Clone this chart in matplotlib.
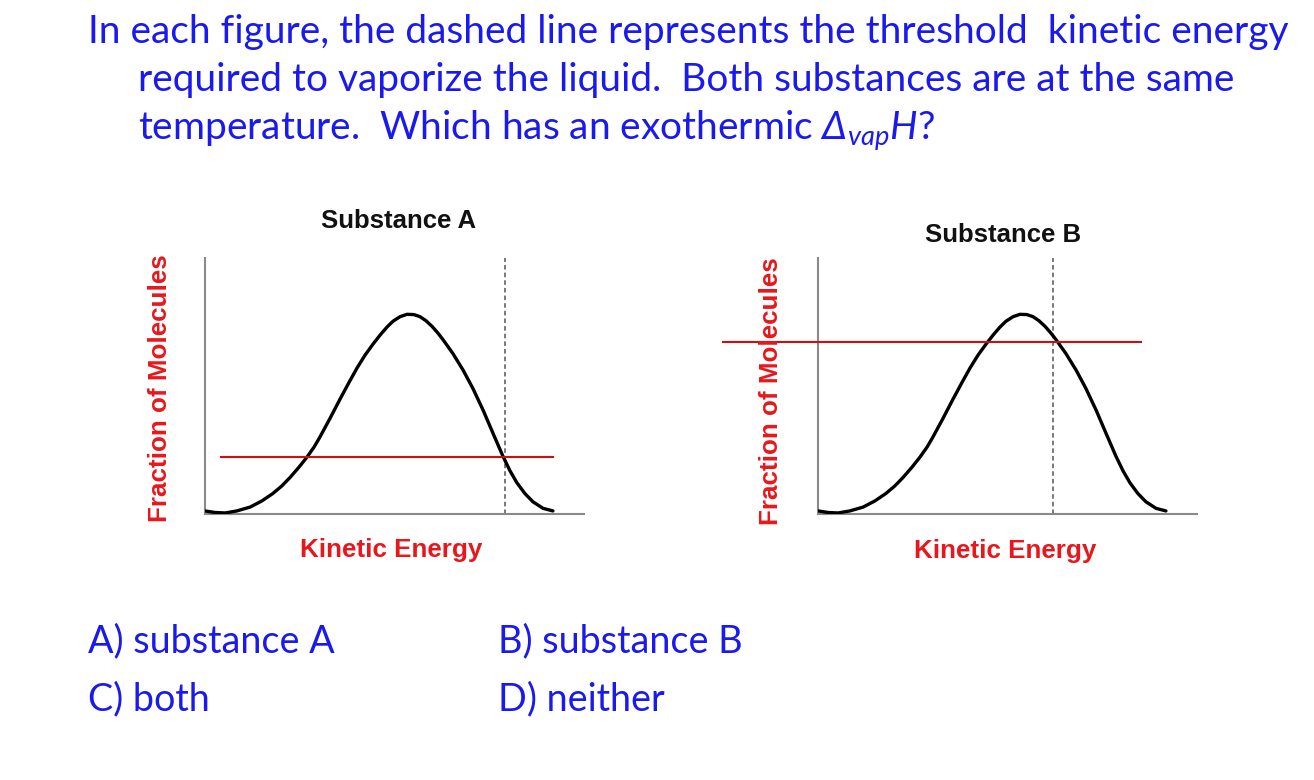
import matplotlib
matplotlib.use("Agg")
import matplotlib.pyplot as plt

W, H = 1314, 780

question_lines = [
    "In each figure, the dashed line represents the threshold  kinetic energy",
    "required to vaporize the liquid.  Both substances are at the same",
    "temperature.  Which has an exothermic $\\mathsf{Δ}_{\\mathit{vap}}\\mathit{H}$?",
]
answers = ["A) substance A", "B) substance B", "C) both", "D) neither"]

# one energy distribution, drawn in both panels (axis units 0-10)
ke = [0.00, 0.26, 0.53, 0.84, 1.19, 1.50, 1.79, 2.03, 2.24, 2.48, 2.69, 2.88,
      3.03, 3.30, 3.56, 3.80, 4.01, 4.22, 4.43, 4.62, 4.80, 4.96, 5.15, 5.33,
      5.51, 5.67, 5.83, 5.99, 6.15, 6.28, 6.54, 6.81, 7.07, 7.34, 7.60, 7.86,
      8.05, 8.23, 8.44, 8.65, 8.92, 9.18]
frac = [0.12, 0.06, 0.04, 0.12, 0.27, 0.51, 0.80, 1.10, 1.42, 1.83, 2.22, 2.62,
        3.00, 3.74, 4.48, 5.14, 5.70, 6.20, 6.63, 6.99, 7.30, 7.53, 7.71, 7.80,
        7.79, 7.71, 7.55, 7.33, 7.06, 6.81, 6.27, 5.62, 4.90, 4.05, 3.15, 2.26,
        1.68, 1.22, 0.80, 0.48, 0.22, 0.12]

titles = ["Substance A", "Substance B"]
threshold_ke = [7.92, 6.20]          # dashed lines
red_level = [2.23, 6.72]             # red horizontal lines
red_start = [0.42, -2.51]
red_end = [9.18, 8.52]

plt.rcParams['font.family'] = ['Lato', 'DejaVu Sans']
plt.rcParams['mathtext.fontset'] = 'custom'
plt.rcParams['mathtext.rm'] = 'Lato'
plt.rcParams['mathtext.it'] = 'Lato:italic'
plt.rcParams['mathtext.sf'] = 'Lato:italic'

blue = '#1a1aee'
red_txt = '#e8171c'
red_line = '#cc1010'
arial = ['Liberation Sans', 'DejaVu Sans']

fig = plt.figure(figsize=(W / 100, H / 100), dpi=100)


def fx(x):
    return x / W


def fy(y):
    return 1 - y / H


# question text (sizes fitted to the line widths afterwards)
q = []
q.append(fig.text(fx(88), fy(43), question_lines[0], color=blue, fontsize=30, va='baseline'))
q.append(fig.text(fx(138), fy(91), question_lines[1], color=blue, fontsize=30, va='baseline'))
q.append(fig.text(fx(138), fy(140), question_lines[2], color=blue, fontsize=30, va='baseline'))

a = []
a.append(fig.text(fx(88), fy(652), answers[0], color=blue, fontsize=27, va='baseline'))
a.append(fig.text(fx(498), fy(652), answers[1], color=blue, fontsize=27, va='baseline'))
a.append(fig.text(fx(88), fy(710), answers[2], color=blue, fontsize=27, va='baseline'))
a.append(fig.text(fx(498), fy(710), answers[3], color=blue, fontsize=27, va='baseline'))

renderer = fig.canvas.get_renderer()
k = 1197 / q[0].get_window_extent(renderer).width
for t in q:
    t.set_fontsize(30 * k)
k2 = 247 / a[0].get_window_extent(renderer).width
for t in a:
    t.set_fontsize(27 * k2)

# the two panels
lefts = [205, 818]
title_pos = [(399, 228), (1003, 242)]
xlab_pos = [(391, 557), (1005, 558)]
ylab_pos = [(160, 388), (771, 391)]

for i in range(2):
    ax = fig.add_axes([fx(lefts[i]), fy(514), 379 / W, 256 / H])
    ax.set_xlim(0, 10)
    ax.set_ylim(0, 10)
    for s in ['top', 'right']:
        ax.spines[s].set_visible(False)
    for s in ['left', 'bottom']:
        ax.spines[s].set_color('#8a8a8a')
        ax.spines[s].set_linewidth(1.5)
    ax.set_xticks([])
    ax.set_yticks([])
    ax.patch.set_alpha(0)

    ax.plot(ke, frac, color='black', lw=2.4, solid_capstyle='round',
            solid_joinstyle='round', zorder=3)
    ax.axvline(threshold_ke[i], color='#555555', lw=1.1, dashes=(3, 2), zorder=2)
    ax.plot([red_start[i], red_end[i]], [red_level[i], red_level[i]],
            color=red_line, lw=1.5, clip_on=False, zorder=4)

    fig.text(fx(title_pos[i][0]), fy(title_pos[i][1]), titles[i], family=arial,
             fontweight='bold', fontsize=18.5, ha='center', va='baseline', color='#111111')
    fig.text(fx(xlab_pos[i][0]), fy(xlab_pos[i][1]), 'Kinetic Energy', family=arial,
             fontweight='bold', fontsize=18.7, ha='center', va='baseline', color=red_txt)
    fig.text(fx(ylab_pos[i][0]), fy(ylab_pos[i][1]), 'Fraction of Molecules', family=arial,
             fontweight='bold', fontsize=18.7, ha='center', va='center', rotation=90,
             color=red_txt, zorder=1)

fig.savefig('out.png', dpi=100)
